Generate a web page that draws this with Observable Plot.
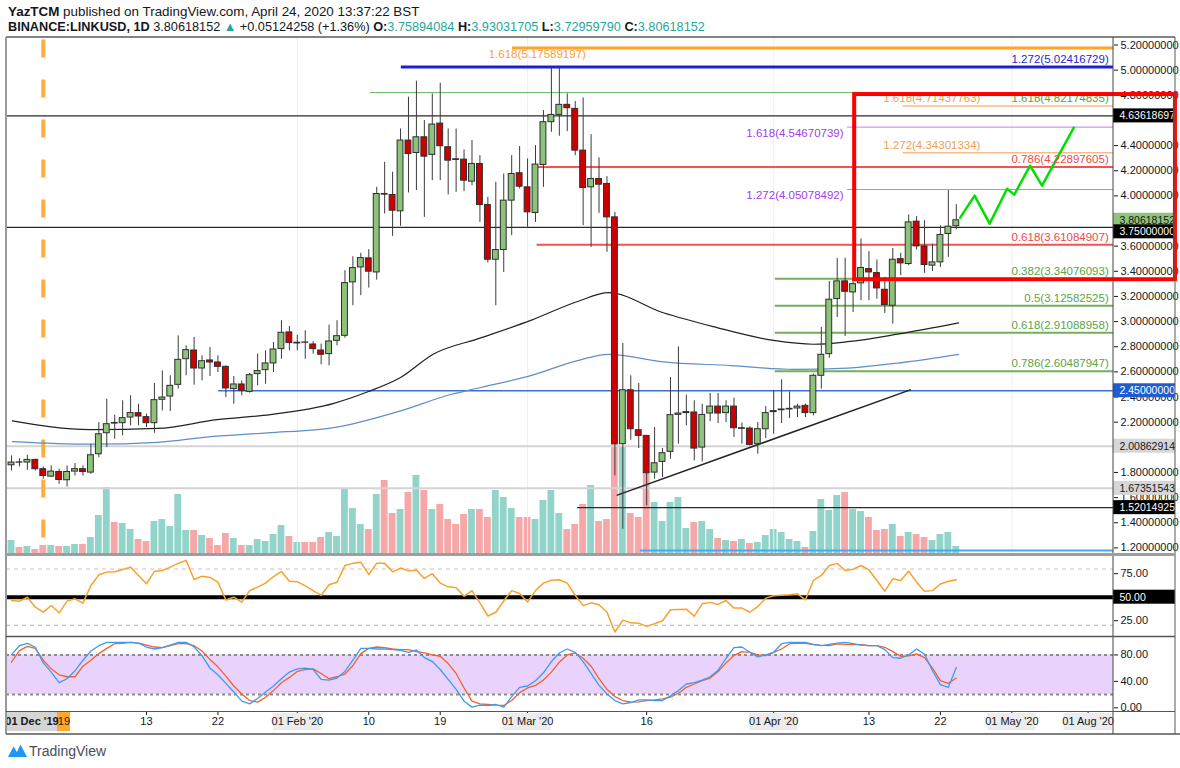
<!DOCTYPE html>
<html><head><meta charset="utf-8">
<script src="https://cdn.jsdelivr.net/npm/d3@7"></script>
<script src="https://cdn.jsdelivr.net/npm/@observablehq/plot@0.6"></script>
<style>
body{margin:0;background:#fff;}
#root{position:relative;width:1180px;height:768px;overflow:hidden;background:#fff;font-family:"Liberation Sans Narrow","Arial Narrow","Liberation Sans",sans-serif;}
#root > .layer{position:absolute;left:0;}
</style></head><body><div id="root"></div>
<script>
// ---------------- DATA ----------------
const firstDay = "2019-12-27"; // day index 0
const open = [1.857,1.880,1.879,1.900,1.826,1.767,1.804,1.738,1.807,1.826,
1.799,1.945,2.112,2.194,2.192,2.237,2.272,2.240,2.192,2.378,
2.404,2.497,2.701,2.770,2.627,2.691,2.675,2.640,2.463,2.500,
2.441,2.582,2.614,2.667,2.781,2.914,2.826,2.834,2.818,2.770,
2.741,2.847,2.887,3.312,3.431,3.503,3.391,4.015,4.007,3.877,
4.440,4.341,4.466,4.326,4.575,4.387,4.291,4.288,4.113,4.254,
3.927,3.492,3.569,3.962,4.180,4.068,3.864,4.246,4.586,4.644,
4.724,4.692,4.360,4.068,4.134,4.095,3.829,2.025,2.454,2.136,
2.091,1.799,1.884,1.964,2.258,2.272,2.277,1.998,2.269,2.324,
2.272,2.324,2.147,2.149,2.025,2.144,2.280,2.295,2.301,2.309,
2.330,2.272,2.569,2.741,3.179,3.320,3.232,3.304,3.418,3.386,
3.253,3.126,3.497,3.458,3.795,3.598,3.445,3.471,3.697,3.759];
const high = [1.932,1.910,1.937,1.905,1.844,1.852,1.826,1.852,1.871,1.852,
2.024,2.197,2.383,2.256,2.370,2.410,2.343,2.264,2.508,2.608,
2.569,2.887,2.807,2.874,2.728,2.794,2.728,2.648,2.563,2.529,
2.587,2.741,2.768,2.834,3.007,2.961,2.892,2.927,2.840,2.821,
2.972,3.007,3.405,3.516,3.543,3.572,4.068,4.267,4.188,4.532,
4.785,4.912,4.599,4.811,4.896,4.532,4.532,4.365,4.440,4.320,
3.988,4.108,4.174,4.320,4.392,4.294,4.400,4.678,5.024,5.024,
4.811,4.750,4.779,4.487,4.302,4.153,3.869,2.826,2.569,2.508,
2.091,2.157,1.990,2.555,2.799,2.415,2.370,2.343,2.428,2.428,
2.370,2.391,2.192,2.163,2.197,2.324,2.449,2.537,2.441,2.343,
2.343,2.582,2.954,3.320,3.503,3.505,3.352,3.657,3.556,3.490,
3.352,3.582,3.543,3.848,3.835,3.803,3.617,3.763,4.042,3.930];
const low = [1.812,1.844,1.817,1.812,1.746,1.759,1.706,1.684,1.772,1.772,
1.786,1.918,1.998,2.064,2.091,2.171,2.171,2.157,2.112,2.290,
2.285,2.463,2.569,2.494,2.529,2.563,2.595,2.396,2.343,2.410,
2.431,2.489,2.502,2.595,2.701,2.768,2.768,2.701,2.741,2.656,
2.648,2.807,2.868,3.126,3.206,3.267,3.330,3.856,3.678,3.758,
4.023,4.042,3.829,4.121,4.121,4.007,4.028,4.034,4.081,3.789,
3.466,3.126,3.391,3.683,4.055,3.750,3.789,4.068,4.506,4.474,
4.511,4.320,3.763,3.590,3.861,3.551,1.772,1.348,2.056,1.990,
1.534,1.746,1.759,1.905,2.025,2.171,1.892,1.884,2.205,2.189,
2.197,2.078,2.025,2.011,1.945,2.070,2.104,2.189,2.229,2.237,
2.237,2.250,2.463,2.709,3.033,2.882,3.073,3.166,3.166,3.179,
3.065,2.980,3.365,3.445,3.569,3.384,3.399,3.431,3.511,3.730];
const close = [1.879,1.878,1.900,1.826,1.772,1.807,1.740,1.804,1.826,1.804,
1.937,2.104,2.184,2.189,2.232,2.272,2.245,2.192,2.375,2.396,
2.489,2.696,2.773,2.627,2.685,2.675,2.640,2.468,2.500,2.449,
2.574,2.606,2.667,2.778,2.911,2.829,2.832,2.832,2.781,2.736,
2.842,2.884,3.306,3.426,3.505,3.397,4.015,4.010,3.882,4.440,
4.333,4.466,4.312,4.567,4.395,4.280,4.286,4.121,4.254,3.927,
3.492,3.569,3.962,4.174,4.073,3.869,4.249,4.586,4.644,4.724,
4.697,4.360,4.063,4.134,4.089,3.829,2.025,2.454,2.144,2.091,
1.794,1.873,1.953,2.256,2.269,2.280,1.990,2.258,2.324,2.269,
2.324,2.152,2.152,2.019,2.144,2.272,2.288,2.301,2.306,2.324,
2.272,2.569,2.736,3.174,3.320,3.237,3.298,3.426,3.391,3.264,
3.131,3.492,3.463,3.789,3.598,3.450,3.471,3.689,3.755,3.806];
const volume = [2.8,1.4,1.6,1.0,1.8,1.8,1.6,1.6,2.0,2.0,
3.4,7.8,13.4,6.4,6.2,5.0,3.0,2.6,6.6,7.0,
5.6,12.0,4.8,4.8,3.8,3.2,1.8,4.2,3.2,1.8,
1.8,3.0,2.6,4.0,5.8,3.6,2.4,2.4,2.4,3.4,
4.4,3.6,13.2,9.2,6.0,5.0,12.0,14.8,8.2,9.0,
12.4,15.8,12.8,9.0,10.0,7.0,6.0,8.0,9.0,9.0,
7.4,12.8,11.4,9.2,7.4,7.4,7.0,10.8,12.8,8.2,
5.0,6.0,10.0,13.8,6.6,7.0,22.0,21.4,8.2,7.4,
16.2,10.4,6.6,10.4,11.4,5.2,6.4,6.6,5.0,3.2,
2.8,2.6,3.0,2.2,2.4,3.8,5.0,4.4,3.0,2.6,
1.4,4.6,11.0,8.8,11.8,12.4,9.0,8.6,7.4,4.8,
5.0,6.0,3.6,4.4,4.0,3.4,2.8,4.0,4.4,1.6];
const rsi = [46.5,45.8,50,39.4,34.1,41.2,33.4,45.8,48.3,43.7,
62.5,73.8,76.7,77,79.5,82,73.1,64.2,77.4,78.4,
82,86,89,68.8,72.4,71,66,47,50,44.7,
57,60.7,65,72,77.4,67,66.5,62,57,52,
63.2,66,83.7,86,87.3,74,86.2,86,77,81,
78,79,70,75,65,61,60,51,57,44,
30,34,46,57,54,45,57,65,68,68.5,
65,52,41,44,42,34,13,25.6,22.7,22.4,
19,21.7,25,36.6,36.9,37.3,29.8,43,44.5,42.3,
46.5,38.4,38.4,34,40,49,51.5,52,52.5,53.6,
47.2,67.8,73.1,83.7,86,78.4,79.8,83.7,79,67.8,
56.4,69.6,67.8,77.7,66,56.4,57,64,67,68.5];
const stochK = [80.5,94,97.6,91.6,68,54,38,44,56,72,
86,94,99,99,99,99,98,92,89,91,
95,99,99,92,79,60,50,37,24,10,
6,14,24,33,44,54,59,60,58,43,
42,45,55,72,90,90,89,89,88,87,
84,87.5,76,70,58,43,28,10,1,4,
3.5,5,1,17,31,33,41,53,70,83,
89,84,70,52,34,21,11,6,8,12,
12,11,11,18,26,36,38,42,47,57,
75,91,92,84,77,80,84,97,99,99,
99,96,94,96,98,99,97,95,94,94,
88,76,75,80,89,81,56,35,31,61];
const stochD = [69,86.5,93,90,72,59,50,47,47,63,
72,82,90,97,97.5,99,98,95,92,91,
94,97,97,94,86,73,62,48,33,21,
11,8.6,16,26,38,46,55,58,59,52,
44,47,51,64,82,90,92,91,89,88,
88,85,83,80,78,67,52,30,10,6,
5,4,3.5,11,23,30,34,42,54,69,
80,83,75,63,44,28,17,11,8.5,9,
11,12,13.5,16,22,31,36,41,45,55,
68,79,85,84,80,79,84,89,97,97.6,
97.5,95.5,94.6,94,96.6,96,95.6,95.6,94,94,
91.6,85,78,78.5,81.5,76,60,41,37,45];
// moving averages: [day index, price]
const maBlack = [[0.1,2.21],[9.9,2.14],[18.4,2.15],[25.9,2.22],[32.6,2.26],[40.6,2.35],[44.8,2.44],[49,2.555],[53.1,2.74],[59.1,2.87],[65.4,3.01],[71.3,3.16],[75.2,3.23],[82.1,3.07],[88.4,2.96],[96.0,2.85],[101.0,2.82],[105.3,2.84],[111.6,2.90],[119.3,2.99]];
const maBlue = [[0.1,2.046],[9.9,2.025],[18.4,2.04],[25.1,2.085],[32.2,2.115],[40.6,2.157],[49,2.29],[55.3,2.42],[59.1,2.476],[65.4,2.57],[71.3,2.69],[75.2,2.74],[82.1,2.68],[90.6,2.65],[98.5,2.62],[105.3,2.63],[111.6,2.67],[119.3,2.74]];
const trendLine = [[76.3,1.62],[113.2,2.457]];
const projection = [[119.5,3.827],[121.3,4.002],[123.2,3.779],[125.4,4.057],[126.3,4.010],[128.3,4.241],[129.8,4.081],[133.8,4.543]];
const zone = {from: 106.2, to: 146.6, low: 3.333, high: 4.806};
const markerDay = 4; // 31 Dec '19
// horizontal levels: price, first day (null = whole width), kind
const levels = [
  {price: 5.17589197, from: 63.1, kind: "orange"},
  {price: 5.02416729, from: 49.1, kind: "blue"},
  {price: 4.82174835, from: 45.2, kind: "greenThin"},
  {price: 4.71437763, from: 112.3, kind: "orangeLight"},
  {price: 4.63618697, from: null, kind: "black"},
  {price: 4.54670739, from: 105.3, kind: "purple"},
  {price: 4.34301334, from: 112.3, kind: "orangeLight"},
  {price: 4.22897605, from: 66.2, kind: "red"},
  {price: 4.05078492, from: 105.3, kind: "purple"},
  {price: 3.75, from: null, kind: "black"},
  {price: 3.61084907, from: 66.2, kind: "red"},
  {price: 3.34076093, from: 96.2, kind: "green"},
  {price: 3.12582525, from: 96.2, kind: "green"},
  {price: 2.91088958, from: 96.2, kind: "green"},
  {price: 2.60487947, from: 96.2, kind: "green"},
  {price: 2.45, from: 26.1, kind: "blueThin"},
  {price: 2.00862914, from: null, kind: "gray"},
  {price: 1.67351543, from: null, kind: "gray"},
  {price: 1.52014925, from: 71.3, kind: "black"},
  {price: 1.18, from: 79.2, kind: "lightBlue"}
];
const fibLabels = [
  {text: "1.618(5.17589197)", price: 5.17589197, at: 60.1, anchor: "start", place: "below", kind: "orange"},
  {text: "1.272(5.02416729)", price: 5.02416729, at: 138.2, anchor: "end", place: "above", kind: "blue"},
  {text: "1.618(4.82174835)", price: 4.82174835, at: 138.2, anchor: "end", place: "below", kind: "greenThin"},
  {text: "1.618(4.71437763)", price: 4.71437763, at: 109.8, anchor: "start", place: "above", kind: "orangeLight"},
  {text: "1.618(4.54670739)", price: 4.54670739, at: 104.8, anchor: "end", place: "below", kind: "purple"},
  {text: "1.272(4.34301334)", price: 4.34301334, at: 109.8, anchor: "start", place: "above", kind: "orangeLight"},
  {text: "0.786(4.22897605)", price: 4.22897605, at: 138.2, anchor: "end", place: "above", kind: "red"},
  {text: "1.272(4.05078492)", price: 4.05078492, at: 104.8, anchor: "end", place: "below", kind: "purple"},
  {text: "0.618(3.61084907)", price: 3.61084907, at: 138.2, anchor: "end", place: "above", kind: "red"},
  {text: "0.382(3.34076093)", price: 3.34076093, at: 138.2, anchor: "end", place: "above", kind: "green"},
  {text: "0.5(3.12582525)", price: 3.12582525, at: 138.2, anchor: "end", place: "above", kind: "green"},
  {text: "0.618(2.91088958)", price: 2.91088958, at: 138.2, anchor: "end", place: "above", kind: "green"},
  {text: "0.786(2.60487947)", price: 2.60487947, at: 138.2, anchor: "end", place: "above", kind: "green"}
];
// price ticks visible on the right scale (4.6, 3.8 and 2.0 sit under value tags)
const priceTicks = [5.2,5.0,4.8,4.4,4.2,4.0,3.6,3.4,3.2,3.0,2.8,2.6,2.4,2.2,1.8,1.6,1.4,1.2];
const priceTags = [
  {price: 4.63618697, text: "4.63618697", kind: "black"},
  {price: 3.80618152, text: "3.80618152", kind: "last"},
  {price: 3.75, text: "3.75000000", kind: "blackShifted"},
  {price: 2.45, text: "2.45000000", kind: "blue"},
  {price: 2.00862914, text: "2.00862914", kind: "gray"},
  {price: 1.67351543, text: "1.67351543", kind: "gray"},
  {price: 1.52014925, text: "1.52014925", kind: "black"}
];
const rsiTicks = [75, 25];
const rsiBands = [80, 20];
const stochTicks = [80, 40, 0];
const stochBands = [80, 20];
const monthStarts = [36, 65, 96, 126];
const timeLabels = [
  {d: 17, text: "13"}, {d: 26, text: "22"}, {d: 36, text: "01 Feb '20", box: true},
  {d: 45, text: "10"}, {d: 54, text: "19"}, {d: 65, text: "01 Mar '20", box: true},
  {d: 80, text: "16"}, {d: 96, text: "01 Apr '20", box: true}, {d: 108, text: "13"},
  {d: 117, text: "22"}, {d: 126, text: "01 May '20", box: true}, {d: 135.6, text: "01 Aug '20", box: true}
];
const pinnedLabel = {d: 2.58, text: "01 Dec '19"};
const markerLabel = {d: 4, text: "19"}; // visible tail of the 31 Dec '19 marker tag

// ---------------- BUILD ----------------
const FONT = '"Liberation Sans Narrow","Arial Narrow","Liberation Sans",sans-serif';
const candles = open.map((o, i) => ({d: i, o, h: high[i], l: low[i], c: close[i], v: volume[i]}));
const up = candles.filter(k => k.c >= k.o), down = candles.filter(k => k.c < k.o);
const xMin = -0.63, xMax = 138.8, xEdge = 146.6;
const W = 1180, ML = 6, MR = 67;
const root = document.getElementById("root");
function place(node, top) { node.classList.add("layer"); node.style.top = top + "px"; root.appendChild(node); }
const baseStyle = {background: "transparent", fontFamily: FONT, fontSize: "11px", color: "#131722", overflow: "visible"};

const kinds = {
  orange: {stroke: "#ffa424", width: 3, text: "#f7a03a"},
  blue: {stroke: "#1e1ed8", width: 3, text: "#2626cf"},
  greenThin: {stroke: "#6cb86a", width: 1, text: "#4fa648"},
  orangeLight: {stroke: "#f7bb8c", width: 1.5, text: "#f0a050"},
  black: {stroke: "#2a2a2a", width: 1.2},
  purple: {stroke: "#c480f5", width: 1, text: "#a040ef"},
  red: {stroke: "#f55252", width: 2, text: "#f04848"},
  green: {stroke: "#74ae5a", width: 2, text: "#5aa548"},
  blueThin: {stroke: "#3c70cc", width: 1.5},
  gray: {stroke: "#d4d4d4", width: 2},
  lightBlue: {stroke: "#45a8f5", width: 2}
};
const tagStyles = {
  black: {fill: "#000", text: "#fff", shift: 0},
  blackShifted: {fill: "#000", text: "#fff", shift: 4.5},
  last: {fill: "#8fc47c", text: "#131722", shift: 0},
  blue: {fill: "#1f5cd2", text: "#fff", shift: 0},
  gray: {fill: "#d6d6d6", text: "#131722", shift: 0}
};
function tagMarks(tags, styles) {
  const out = [];
  for (const t of tags) {
    const s = styles[t.kind];
    out.push(Plot.rect([t], {x1: () => xMax, x2: () => xEdge, y1: "price", y2: "price", insetTop: -7 + s.shift, insetBottom: -7 - s.shift, fill: s.fill}));
    out.push(Plot.text([t], {x: () => xMax, y: "price", text: "text", dx: 6, dy: s.shift, textAnchor: "start", fill: s.text, fontSize: 10.5}));
  }
  return out;
}

// volume layer (under price pane)
const volPlot = Plot.plot({
  width: W, height: 150, marginLeft: ML, marginRight: MR, marginTop: 0, marginBottom: 0,
  x: {domain: [xMin, xMax], axis: null}, y: {domain: [0, 30], axis: null}, style: baseStyle,
  marks: [
    Plot.rectY(up, {x1: k => k.d - 0.43, x2: k => k.d + 0.43, y: "v", fill: "#92d4ca"}),
    Plot.rectY(down, {x1: k => k.d - 0.43, x2: k => k.d + 0.43, y: "v", fill: "#f6a8a8"})
  ]
});
place(volPlot, 37 + 517 - 150);

// price pane
const levelMarks = Object.keys(kinds).map(k => Plot.ruleY(levels.filter(l => l.kind === k), {
  y: "price", x1: l => l.from == null ? xMin : l.from, x2: () => xMax, stroke: kinds[k].stroke, strokeWidth: kinds[k].width
}));
const labelMarks = fibLabels.map(l => Plot.text([l], {
  x: "at", y: "price", text: "text", textAnchor: l.anchor, dy: l.place === "above" ? -7.5 : 6,
  fill: kinds[l.kind].text, fontSize: 11.5
}));
const mainPlot = Plot.plot({
  width: W, height: 517, marginLeft: ML, marginRight: MR, marginTop: 0, marginBottom: 0,
  x: {domain: [xMin, xMax], axis: null}, y: {domain: [1.1475, 5.2597], axis: null}, style: baseStyle,
  marks: [
    Plot.ruleX(monthStarts, {x: d => d, stroke: "#efefef"}),
    ...levelMarks,
    Plot.ruleX([markerDay], {x: d => d, y1: 1.255, y2: 5.2597, stroke: "#ffad42", strokeWidth: 4, strokeDasharray: "18,22", strokeDashoffset: -3}),
    Plot.line(maBlue, {x: p => p[0], y: p => p[1], stroke: "#5d8fc8", strokeWidth: 1.2, curve: "monotone-x"}),
    Plot.line(maBlack, {x: p => p[0], y: p => p[1], stroke: "#222", strokeWidth: 1.2, curve: "monotone-x"}),
    Plot.line(trendLine, {x: p => p[0], y: p => p[1], stroke: "#222", strokeWidth: 1.5}),
    Plot.ruleX(candles, {x: "d", y1: "l", y2: "h", stroke: "#3b3b3b", strokeWidth: 1}),
    Plot.rect(up, {x1: k => k.d - 0.37, x2: k => k.d + 0.37, y1: "o", y2: "c", fill: "#8cc27a", stroke: "#2e2e2e", strokeWidth: 1}),
    Plot.rect(down, {x1: k => k.d - 0.37, x2: k => k.d + 0.37, y1: "o", y2: "c", fill: "#cc0000", stroke: "#2e2e2e", strokeWidth: 1}),
    Plot.line(projection, {x: p => p[0], y: p => p[1], stroke: "#00e000", strokeWidth: 2.5}),
    ...labelMarks,
    Plot.axisY({anchor: "right", ticks: priceTicks, tickFormat: d3.format(".8f"), tickSize: 4, tickPadding: 3, fontSize: 11, label: null}),
    ...tagMarks(priceTags, tagStyles),
    Plot.rect([zone], {x1: "from", x2: "to", y1: "low", y2: "high", fill: "none", stroke: "#ff0000", strokeWidth: 4})
  ]
});
place(mainPlot, 37);

// RSI pane
const rsiRows = rsi.map((v, i) => ({d: i, v}));
const rsiPlot = Plot.plot({
  width: W, height: 80, marginLeft: ML, marginRight: MR, marginTop: 0, marginBottom: 0,
  x: {domain: [xMin, xMax], axis: null}, y: {domain: [8.2, 93.3], axis: null}, style: baseStyle,
  marks: [
    Plot.ruleY(rsiBands, {y: d => d, stroke: "#c4c4c4", strokeWidth: 1.2, strokeDasharray: "4,4"}),
    Plot.ruleY([50], {y: d => d, x1: () => xMin, x2: () => xMax, stroke: "#000", strokeWidth: 4}),
    Plot.line(rsiRows, {x: "d", y: "v", stroke: "#f9a12e", strokeWidth: 1.5}),
    Plot.axisY({anchor: "right", ticks: rsiTicks, tickFormat: d3.format(".2f"), tickSize: 4, tickPadding: 3, fontSize: 11, label: null}),
    ...tagMarks([{price: 50, text: "50.00", kind: "black"}], tagStyles)
  ]
});
place(rsiPlot, 556);

// Stoch RSI pane + time axis
const stRows = stochK.map((k, i) => ({d: i, k, dd: stochD[i]}));
const boxLabels = timeLabels.filter(t => t.box);
const stochPlot = Plot.plot({
  width: W, height: 98, marginLeft: ML, marginRight: MR, marginTop: 0, marginBottom: 24,
  x: {domain: [xMin, xMax], axis: null}, y: {domain: [-5.6, 106.4], axis: null}, style: baseStyle,
  marks: [
    Plot.rect([{}], {x1: () => xMin, x2: () => xMax, y1: () => 20, y2: () => 80, fill: "#e9d3fc"}),
    Plot.ruleY(stochBands, {y: d => d, stroke: "#8c8c8c", strokeWidth: 2, strokeDasharray: "3,3"}),
    Plot.line(stRows, {x: "d", y: "dd", stroke: "#f4612a", strokeWidth: 1.3}),
    Plot.line(stRows, {x: "d", y: "k", stroke: "#3a9cf2", strokeWidth: 1.3}),
    Plot.axisY({anchor: "right", ticks: stochTicks, tickFormat: d3.format(".2f"), tickSize: 4, tickPadding: 3, fontSize: 11, label: null}),
    Plot.axisX({anchor: "bottom", ticks: timeLabels.map(t => t.d), tickFormat: () => "", tickSize: 4, label: null}),
    Plot.rect(boxLabels, {x1: "d", x2: "d", y1: () => -5.6, y2: () => -5.6, insetLeft: -24, insetRight: -24, insetTop: 2, insetBottom: -19, fill: "#ececec"}),
    Plot.rect([markerLabel], {x1: "d", x2: "d", y1: () => -5.6, y2: () => -5.6, insetLeft: 14.2, insetRight: -27.2, insetTop: 1, insetBottom: -20, fill: "#ffa726"}),
    Plot.text([markerLabel], {x: "d", y: () => -5.6, text: "text", dx: 20.7, dy: 9.5, fill: "#222", fontSize: 11}),
    Plot.rect([pinnedLabel], {x1: "d", x2: "d", y1: () => -5.6, y2: () => -5.6, insetLeft: -25.5, insetRight: -25.5, insetTop: 1, insetBottom: -20, fill: "#d5d5d5"}),
    Plot.text([pinnedLabel], {x: "d", y: () => -5.6, text: "text", dy: 9.5, fill: "#131722", fontSize: 11, fontWeight: "bold"}),
    Plot.text(timeLabels, {x: "d", y: () => -5.6, text: "text", dy: 9.5, fill: "#131722", fontSize: 11})
  ]
});
place(stochPlot, 637);

// header
const F2 = FONT.replace(/"/g, "'");
const hdr = document.createElement("div");
hdr.innerHTML = `<svg width="1180" height="37" xmlns="http://www.w3.org/2000/svg" style="font-family:${F2};fill:#131722">
<text x="8" y="15.5" font-size="13.4"><tspan font-weight="bold">YazTCM</tspan> published on TradingView.com, April 24, 2020 13:37:22 BST</text>
<text x="8" y="30.5" font-size="12.7"><tspan font-weight="bold">BINANCE:LINKUSD, 1D</tspan> 3.80618152 <tspan fill="#26a69a">▲</tspan> +0.05124258 (+1.36%) <tspan font-weight="bold">O:</tspan><tspan fill="#26a69a">3.75894084</tspan> <tspan font-weight="bold">H:</tspan><tspan fill="#26a69a">3.93031705</tspan> <tspan font-weight="bold">L:</tspan><tspan fill="#26a69a">3.72959790</tspan> <tspan font-weight="bold">C:</tspan><tspan fill="#26a69a">3.80618152</tspan></text>
</svg>`;
place(hdr, 0);

// frame lines and footer
const frame = document.createElement("div");
frame.innerHTML = `<svg width="1180" height="768" xmlns="http://www.w3.org/2000/svg" style="pointer-events:none">
<line x1="6" y1="37" x2="1175" y2="37" stroke="#5a5a5a" stroke-width="1.5"/>
<line x1="6" y1="37" x2="6" y2="734" stroke="#9a9a9a" stroke-width="2"/>
<line x1="1175" y1="37" x2="1175" y2="734" stroke="#5a5a5a" stroke-width="1"/>
<line x1="1113" y1="37" x2="1113" y2="734" stroke="#444" stroke-width="1"/>
<line x1="6" y1="554.5" x2="1175" y2="554.5" stroke="#9e9e9e" stroke-width="3"/>
<line x1="6" y1="636.5" x2="1175" y2="636.5" stroke="#555" stroke-width="1.5"/>
<line x1="6" y1="711.5" x2="1175" y2="711.5" stroke="#555" stroke-width="1"/>
<line x1="6" y1="734" x2="1180" y2="734" stroke="#555" stroke-width="1.5"/>
<path d="M8 757 L13.5 746.5 L17 752 L20.5 744.5 L27 757 Z" fill="#2196f3"/>
<text x="29" y="756" font-size="14" fill="#4a4e59" style="font-family:${F2}">TradingView</text>
</svg>`;
place(frame, 0);
</script></body></html>
